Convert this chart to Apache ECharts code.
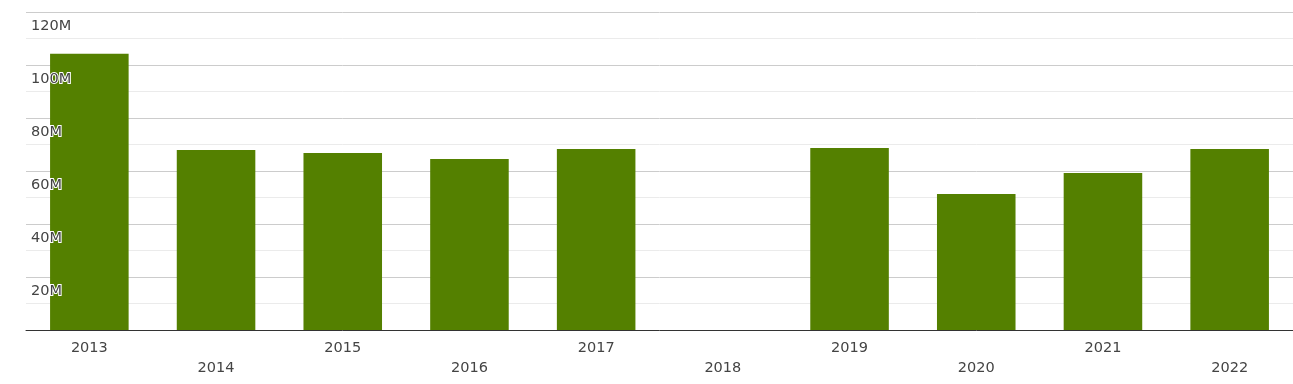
<!DOCTYPE html>
<html><head><meta charset="utf-8">
<script src="https://cdn.jsdelivr.net/npm/echarts@6/dist/echarts.min.js"></script>
<style>html,body{margin:0;padding:0;background:#fff}#c{width:1293px;height:384px}</style>
</head><body><div id="c"></div>
<script>
const categories = ['2013','2014','2015','2016','2017','2018','2019','2020','2021','2022'];
const values = [104200000, 67900000, 66800000, 64500000, 68300000, null, 68700000, 51300000, 59200000, 68300000];
const yTicks = [0, 20000000, 40000000, 60000000, 80000000, 100000000, 120000000];

const yMin = yTicks[0], yMax = yTicks[yTicks.length-1], yStep = yTicks[1]-yTicks[0];
const chart = echarts.init(document.getElementById('c'), null, {renderer:'canvas'});
chart.setOption({
  animation:false,
  grid:{left:26,right:0,top:12,bottom:54,containLabel:false},
  xAxis:{
    type:'category', data:categories, z:5,
    axisLine:{show:true,lineStyle:{color:'#333',width:1}},
    axisTick:{show:false},
    splitLine:{show:false},
    axisLabel:{interval:0,margin:8,color:'#444',fontFamily:'DejaVu Sans',fontSize:14.5,lineHeight:20,
      formatter:(v,i)=> i%2 ? '\n'+v : v}
  },
  yAxis:[{
    type:'value', min:yMin, max:yMax, interval:yStep, z:0,
    axisLine:{show:false}, axisTick:{show:false},
    splitLine:{show:true,lineStyle:{color:'#ccc',width:1}},
    minorTick:{show:false,splitNumber:2},
    minorSplitLine:{show:true,lineStyle:{color:'#ebebeb',width:1}},
    axisLabel:{show:false}
  },{
    type:'value', min:yMin, max:yMax, interval:yStep, z:10, position:'left',
    axisLine:{show:false}, axisTick:{show:false},
    splitLine:{show:false},
    axisLabel:{inside:true,margin:5,color:'#444',fontFamily:'DejaVu Sans',fontSize:14.5,
      verticalAlign:'top',padding:[7,0,0,0],
      textBorderColor:'#fff',textBorderWidth:2,
      formatter:v=> v===0 ? '' : (v/1e6)+'M'}
  }],
  series:[{type:'bar',data:values,barWidth:'62%',itemStyle:{color:'#548000'},z:2}]
});
</script></body></html>
